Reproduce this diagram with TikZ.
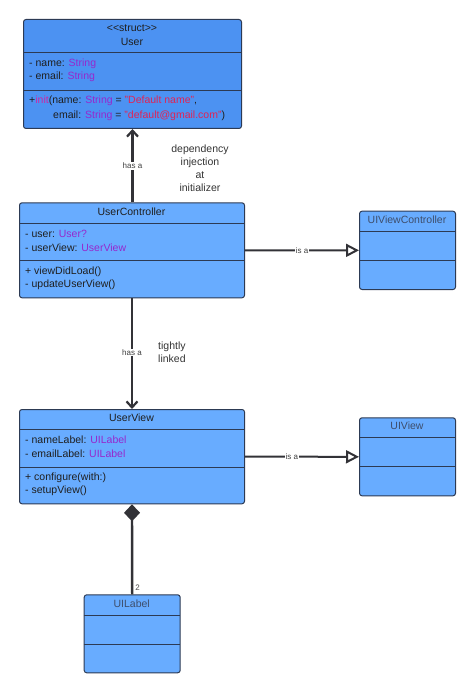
\documentclass[tikz,border=0pt]{standalone}
\usepackage{fontspec}
\setmainfont{Liberation Sans}
\usepackage{tikz}
\usetikzlibrary{arrows.meta}
\usetikzlibrary{calc}
\usetikzlibrary{shapes}

\definecolor{structblue}{RGB}{76,146,242}
\definecolor{classblue}{RGB}{104,172,255}
\definecolor{borderblue}{RGB}{44,58,84}
\definecolor{typepurple}{RGB}{150,40,205}
\definecolor{funcpink}{RGB}{205,40,165}
\definecolor{stringred}{RGB}{225,35,85}
\definecolor{titlegray}{RGB}{62,78,108}
\definecolor{linegray}{RGB}{50,50,55}

\begin{document}
\begin{tikzpicture}[x=1pt, y=-1pt, line join=round,
        class_style/.style={rectangle,draw=borderblue,fill=classblue,line width=1pt,rounded corners=2.5pt,anchor=north west,inner sep=0pt},
        struct_style/.style={class_style,fill=structblue},
        divider_style/.style={draw=borderblue, line width=0.9pt},
        title_style/.style={font=\fontsize{10.5}{13}\selectfont, text=black!88},
        base_title_style/.style={font=\fontsize{10.5}{13}\selectfont, text=titlegray},
        member_style/.style={anchor=west, align=left, inner sep=0pt, font=\fontsize{10.5}{13.3}\selectfont, text=black!88},
        note_style/.style={align=center, inner sep=0pt, font=\fontsize{10.5}{13}\selectfont, text=black!80},
        edge_label_style/.style={fill=white, inner sep=1pt, font=\fontsize{8}{9}\selectfont, text=black!75},
        has_edge_style/.style={draw=linegray, line width=2.6pt, -{Straight Barb[length=6pt,width=11pt,line width=2.2pt]}},
        is_edge_style/.style={draw=linegray, line width=2pt, -{Triangle[open,length=13pt,width=13pt,line width=2pt,fill=white]}},
        owns_edge_style/.style={draw=linegray, line width=2.4pt, {Diamond[length=17pt,width=16pt]}-}]

        \useasboundingbox (0,0) rectangle (474,692);

        % User
        \node [struct_style, minimum width=218pt, minimum height=109pt] (user) at (23,19) {};
        \draw [divider_style] (23,52.3) -- (241,52.3);
        \draw [divider_style] (23,90.3) -- (241,90.3);
        \node [title_style] (user_stereo) at (132,28) {<\kern0pt<struct>\kern0pt>};
        \node [title_style] (user_title) at (132,41.7) {User};
        \node [member_style] (user_attr) at (29,70) {- name: \textcolor{typepurple}{String}\\- email: \textcolor{typepurple}{String}};
        \node [member_style] (user_init) at (29,100.7) {+\textcolor{funcpink}{init}(name: \textcolor{typepurple}{String} = \textcolor{stringred}{"Default name"},};
        \node [member_style] (user_init_b) at (53,115.3) {email: \textcolor{typepurple}{String} = \textcolor{stringred}{"default@gmail.com"})};

        % UserController
        \node [class_style, minimum width=225pt, minimum height=95pt] (controller) at (19,202.3) {};
        \draw [divider_style] (19,223.3) -- (244,223.3);
        \draw [divider_style] (19,260.7) -- (244,260.7);
        \node [title_style] (controller_title) at (131.5,211.7) {UserController};
        \node [member_style] (controller_attr) at (25,240.8) {- user: \textcolor{typepurple}{User?}\\- userView: \textcolor{typepurple}{UserView}};
        \node [member_style] (controller_ops) at (25,278) {+ viewDidLoad()\\- updateUserView()};

        % UIViewController
        \node [class_style, minimum width=96pt, minimum height=78.3pt] (uivc) at (359,210.7) {};
        \draw [divider_style] (359,231.7) -- (455,231.7);
        \draw [divider_style] (359,260.3) -- (455,260.3);
        \node [base_title_style] (uivc_title) at (407,220) {UIViewController};

        % UserView
        \node [class_style, minimum width=225pt, minimum height=94.3pt] (userview) at (19,409) {};
        \draw [divider_style] (19,429.3) -- (244,429.3);
        \draw [divider_style] (19,467) -- (244,467);
        \node [title_style] (userview_title) at (131.5,417.3) {UserView};
        \node [member_style] (userview_attr) at (25,446.7) {- nameLabel: \textcolor{typepurple}{UILabel}\\- emailLabel: \textcolor{typepurple}{UILabel}};
        \node [member_style] (userview_ops) at (25,484.5) {+ configure(with:)\\- setupView()};

        % UIView
        \node [class_style, minimum width=96pt, minimum height=78pt] (uiview) at (359,417.3) {};
        \draw [divider_style] (359,437.7) -- (455,437.7);
        \draw [divider_style] (359,466.7) -- (455,466.7);
        \node [base_title_style] (uiview_title) at (407,426) {UIView};

        % UILabel
        \node [class_style, minimum width=96pt, minimum height=78pt] (uilabel) at (83.7,594.3) {};
        \draw [divider_style] (83.7,615.3) -- (179.7,615.3);
        \draw [divider_style] (83.7,644.3) -- (179.7,644.3);
        \node [base_title_style] (uilabel_title) at (131.7,603.3) {UILabel};

        % notes
        \node [note_style] (note_injection) at (200,168) {dependency\\injection\\at\\initializer};
        \node [note_style, anchor=west, align=left] (note_linked) at (158,352) {tightly\\linked};

        % relations
        \draw [has_edge_style] (controller.north -| user.south) -- (user.south) node [midway, edge_label_style] {has a};
        \draw [has_edge_style] (controller.south) -- (userview.north) node [pos=0.49, edge_label_style] {has a};
        \draw [is_edge_style] (controller.east) -- (uivc.west) node [midway, edge_label_style] {is a};
        \draw [is_edge_style] (userview.east) -- (uiview.west) node [pos=0.41, edge_label_style] {is a};
        \draw [owns_edge_style] (userview.south) -- (uilabel.north) node [pos=0.93, right, inner sep=2pt, font=\fontsize{8}{9}\selectfont, text=black!70] {2};

        \end{tikzpicture}
\end{document}
